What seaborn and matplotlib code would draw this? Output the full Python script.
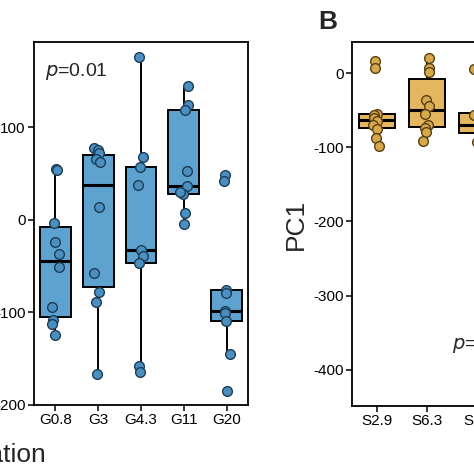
import numpy as np
import pandas as pd
import matplotlib
matplotlib.use("Agg")
import matplotlib.pyplot as plt
import seaborn as sns

np.random.seed(3)
g_cats = ["G0.8", "G3", "G4.3", "G11", "G20"]
g_vals = {
    "G0.8": [55, 54, -3, -24, -37, -51, -94, -108, -113, -124],
    "G3": [78, 75, 72, 66, 62, 14, -57, -78, -89, -166],
    "G4.3": [176, 68, 57, 38, -33, -39, -47, -158, -164],
    "G11": [144, 124, 119, 53, 36, 28, 30, 7, -4],
    "G20": [48, 42, -76, -79, -99, -101, -109, -145, -185],
}
s_cats = ["S2.9", "S6.3", "S10"]
s_vals = {
    "S2.9": [17, 7, -55, -56, -61, -65, -70, -76, -88, -98],
    "S6.3": [20, 7, 1, -36, -44, -55, -70, -74, -80, -92],
    "S10": [5, -52, -56, -70, -72, -90, -93],
}
g_df = pd.DataFrame([(k, v) for k in g_cats for v in g_vals[k]], columns=["grp", "val"])
s_df = pd.DataFrame([(k, v) for k in s_cats for v in s_vals[k]], columns=["grp", "val"])

sns.set_style("ticks")
plt.rcParams['font.family'] = ['Liberation Sans', 'DejaVu Sans']
plt.rcParams['axes.unicode_minus'] = False
fig = plt.figure(figsize=(4.74, 4.74), dpi=100)
W = 474
ax1 = fig.add_axes([34/W, 69/W, 214/W, 363/W])
ax2 = fig.add_axes([352/W, 68/W, 250/W, 364/W])

box_kw = dict(showfliers=False, linewidth=1.4, width=0.72,
              boxprops=dict(edgecolor="black"), whiskerprops=dict(color="black"),
              capprops=dict(color="black", linewidth=0), medianprops=dict(color="black", linewidth=2.2))
sns.boxplot(data=g_df, x="grp", y="val", order=g_cats, color="#5ea2cf", saturation=1, ax=ax1, **box_kw)
sns.stripplot(data=g_df, x="grp", y="val", order=g_cats, color="#4a8fbf", edgecolor="#1d3d55",
              linewidth=1, size=7, jitter=0.1, ax=ax1)
sns.boxplot(data=s_df, x="grp", y="val", order=s_cats, color="#e3b65f", saturation=1, ax=ax2, **box_kw)
sns.stripplot(data=s_df, x="grp", y="val", order=s_cats, color="#d6a84e", edgecolor="#5a4010",
              linewidth=1, size=7, jitter=0.1, ax=ax2)

ax1.set_ylim(-200, 192)
ax1.set_yticks([100, 0, -100, -200])
ax1.set_xlim(-0.5, 4.5)
ax2.set_ylim(-449, 42)
ax2.set_yticks([0, -100, -200, -300, -400])
ax2.set_xlim(-0.5, 4.5)
for ax in (ax1, ax2):
    ax.set_xlabel("")
    for s in ax.spines.values():
        s.set_visible(True); s.set_linewidth(1.3); s.set_color("black")
    ax.tick_params(labelsize=11, width=1.1, length=4, colors="black", pad=2)
ax1.set_ylabel("")
ax2.set_ylabel("PC1", fontsize=19, labelpad=4)
ax1.text(0.05, 0.92, "$p$=0.01", transform=ax1.transAxes, fontsize=14, va="center")
ax2.text(0.4, 0.17, "$p$=0.01", transform=ax2.transAxes, fontsize=14, va="center")
fig.text(46/W, 1-455/W, "Generation", fontsize=19, ha="right", va="center")
fig.text(318/W, 1-22/W, "B", fontsize=19, fontweight="bold", ha="left", va="center")
fig.savefig("out.png", dpi=100)
